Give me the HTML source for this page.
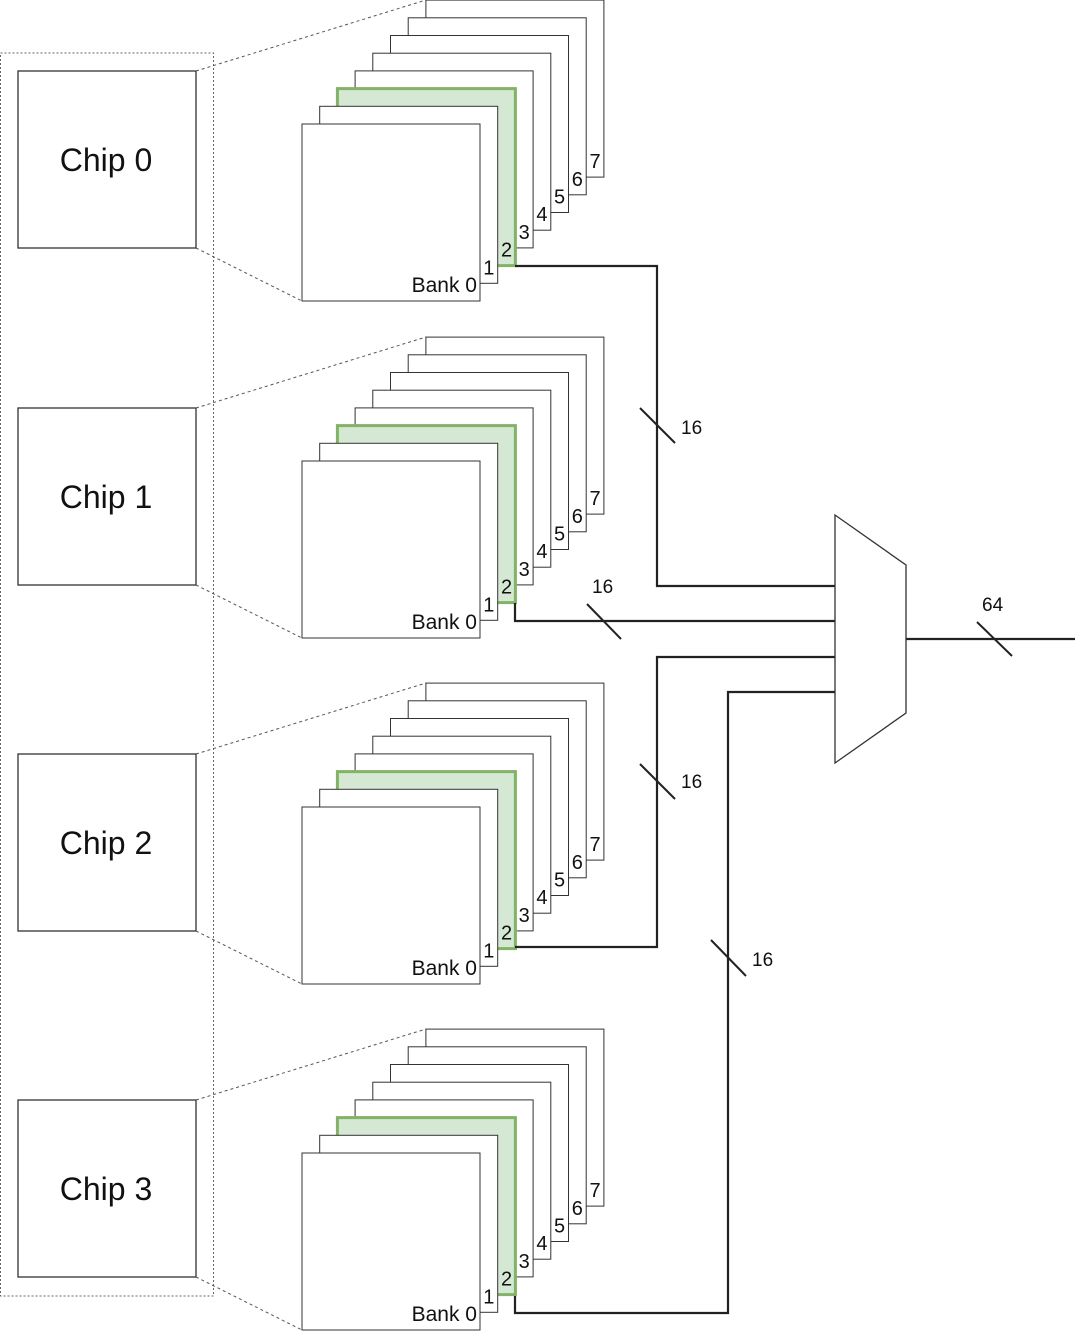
<!DOCTYPE html>
<html><head><meta charset="utf-8"><style>html,body{margin:0;padding:0;background:#fff}svg{display:block}</style></head>
<body>
<svg width="1080" height="1337" viewBox="0 0 1080 1337" xmlns="http://www.w3.org/2000/svg" font-family="Liberation Sans, Arial, sans-serif">
<rect x="0.5" y="53" width="213" height="1243" fill="none" stroke="#666" stroke-dasharray="2,2"/>

<g>
<rect x="18" y="71" width="178" height="177" fill="#fff" stroke="#333" stroke-width="1.3"/>
<line x1="196" y1="71" x2="426" y2="0" stroke="#555" stroke-dasharray="3,3"/>
<line x1="196" y1="248" x2="302" y2="301" stroke="#555" stroke-dasharray="3,3"/>
<rect x="425.9" y="0.1" width="178" height="177" fill="#fff" stroke="#333"/>
<rect x="408.2" y="17.8" width="178" height="177" fill="#fff" stroke="#333"/>
<rect x="390.5" y="35.5" width="178" height="177" fill="#fff" stroke="#333"/>
<rect x="372.8" y="53.2" width="178" height="177" fill="#fff" stroke="#333"/>
<rect x="355.1" y="70.9" width="178" height="177" fill="#fff" stroke="#333"/>
<rect x="337.4" y="88.6" width="178" height="177" fill="#d5e8d4" stroke="#82b366" stroke-width="3"/>
<rect x="319.7" y="106.3" width="178" height="177" fill="#fff" stroke="#333"/>
<rect x="302" y="124" width="178" height="177" fill="#fff" stroke="#333"/>
<g font-size="20" text-anchor="middle" fill="#111"><text x="488.8" y="274.3">1</text><text x="506.5" y="256.6">2</text><text x="524.2" y="238.9">3</text><text x="541.9" y="221.2">4</text><text x="559.6" y="203.5">5</text><text x="577.3" y="185.8">6</text><text x="595" y="168.1">7</text></g>
<text x="477" y="292" font-size="21" text-anchor="end" fill="#111">Bank 0</text>
<text x="106" y="171" font-size="32" text-anchor="middle" fill="#111">Chip 0</text>
</g>

<g transform="translate(0,337)">
<rect x="18" y="71" width="178" height="177" fill="#fff" stroke="#333" stroke-width="1.3"/>
<line x1="196" y1="71" x2="426" y2="0" stroke="#555" stroke-dasharray="3,3"/>
<line x1="196" y1="248" x2="302" y2="301" stroke="#555" stroke-dasharray="3,3"/>
<rect x="425.9" y="0.1" width="178" height="177" fill="#fff" stroke="#333"/>
<rect x="408.2" y="17.8" width="178" height="177" fill="#fff" stroke="#333"/>
<rect x="390.5" y="35.5" width="178" height="177" fill="#fff" stroke="#333"/>
<rect x="372.8" y="53.2" width="178" height="177" fill="#fff" stroke="#333"/>
<rect x="355.1" y="70.9" width="178" height="177" fill="#fff" stroke="#333"/>
<rect x="337.4" y="88.6" width="178" height="177" fill="#d5e8d4" stroke="#82b366" stroke-width="3"/>
<rect x="319.7" y="106.3" width="178" height="177" fill="#fff" stroke="#333"/>
<rect x="302" y="124" width="178" height="177" fill="#fff" stroke="#333"/>
<g font-size="20" text-anchor="middle" fill="#111"><text x="488.8" y="274.3">1</text><text x="506.5" y="256.6">2</text><text x="524.2" y="238.9">3</text><text x="541.9" y="221.2">4</text><text x="559.6" y="203.5">5</text><text x="577.3" y="185.8">6</text><text x="595" y="168.1">7</text></g>
<text x="477" y="292" font-size="21" text-anchor="end" fill="#111">Bank 0</text>
<text x="106" y="171" font-size="32" text-anchor="middle" fill="#111">Chip 1</text>
</g>

<g transform="translate(0,683)">
<rect x="18" y="71" width="178" height="177" fill="#fff" stroke="#333" stroke-width="1.3"/>
<line x1="196" y1="71" x2="426" y2="0" stroke="#555" stroke-dasharray="3,3"/>
<line x1="196" y1="248" x2="302" y2="301" stroke="#555" stroke-dasharray="3,3"/>
<rect x="425.9" y="0.1" width="178" height="177" fill="#fff" stroke="#333"/>
<rect x="408.2" y="17.8" width="178" height="177" fill="#fff" stroke="#333"/>
<rect x="390.5" y="35.5" width="178" height="177" fill="#fff" stroke="#333"/>
<rect x="372.8" y="53.2" width="178" height="177" fill="#fff" stroke="#333"/>
<rect x="355.1" y="70.9" width="178" height="177" fill="#fff" stroke="#333"/>
<rect x="337.4" y="88.6" width="178" height="177" fill="#d5e8d4" stroke="#82b366" stroke-width="3"/>
<rect x="319.7" y="106.3" width="178" height="177" fill="#fff" stroke="#333"/>
<rect x="302" y="124" width="178" height="177" fill="#fff" stroke="#333"/>
<g font-size="20" text-anchor="middle" fill="#111"><text x="488.8" y="274.3">1</text><text x="506.5" y="256.6">2</text><text x="524.2" y="238.9">3</text><text x="541.9" y="221.2">4</text><text x="559.6" y="203.5">5</text><text x="577.3" y="185.8">6</text><text x="595" y="168.1">7</text></g>
<text x="477" y="292" font-size="21" text-anchor="end" fill="#111">Bank 0</text>
<text x="106" y="171" font-size="32" text-anchor="middle" fill="#111">Chip 2</text>
</g>

<g transform="translate(0,1029)">
<rect x="18" y="71" width="178" height="177" fill="#fff" stroke="#333" stroke-width="1.3"/>
<line x1="196" y1="71" x2="426" y2="0" stroke="#555" stroke-dasharray="3,3"/>
<line x1="196" y1="248" x2="302" y2="301" stroke="#555" stroke-dasharray="3,3"/>
<rect x="425.9" y="0.1" width="178" height="177" fill="#fff" stroke="#333"/>
<rect x="408.2" y="17.8" width="178" height="177" fill="#fff" stroke="#333"/>
<rect x="390.5" y="35.5" width="178" height="177" fill="#fff" stroke="#333"/>
<rect x="372.8" y="53.2" width="178" height="177" fill="#fff" stroke="#333"/>
<rect x="355.1" y="70.9" width="178" height="177" fill="#fff" stroke="#333"/>
<rect x="337.4" y="88.6" width="178" height="177" fill="#d5e8d4" stroke="#82b366" stroke-width="3"/>
<rect x="319.7" y="106.3" width="178" height="177" fill="#fff" stroke="#333"/>
<rect x="302" y="124" width="178" height="177" fill="#fff" stroke="#333"/>
<g font-size="20" text-anchor="middle" fill="#111"><text x="488.8" y="274.3">1</text><text x="506.5" y="256.6">2</text><text x="524.2" y="238.9">3</text><text x="541.9" y="221.2">4</text><text x="559.6" y="203.5">5</text><text x="577.3" y="185.8">6</text><text x="595" y="168.1">7</text></g>
<text x="477" y="292" font-size="21" text-anchor="end" fill="#111">Bank 0</text>
<text x="106" y="171" font-size="32" text-anchor="middle" fill="#111">Chip 3</text>
</g>

<g fill="none" stroke="#222" stroke-width="2.2">
<polyline points="515,266 657,266 657,586 835,586"/>
<polyline points="515,603 515,621 835,621"/>
<polyline points="515,947 657,947 657,657 835,657"/>
<polyline points="515,1296 515,1313 728,1313 728,692 835,692"/>
<line x1="906" y1="639" x2="1075" y2="639"/>
</g>
<polygon points="835,515 906,565 906,713 835,763" fill="#fff" stroke="#333" stroke-width="1.3"/>
<g stroke="#222" stroke-width="2">
<line x1="640" y1="408" x2="675" y2="443"/>
<line x1="587" y1="604" x2="621" y2="639"/>
<line x1="640" y1="764" x2="675" y2="799"/>
<line x1="711" y1="940" x2="746" y2="976"/>
<line x1="977" y1="622" x2="1012" y2="656"/>
</g>
<g font-size="19" fill="#111">
<text x="681" y="434">16</text>
<text x="592" y="593">16</text>
<text x="681" y="788">16</text>
<text x="752" y="966">16</text>
<text x="982" y="611">64</text>
</g>
</svg>
</body></html>
